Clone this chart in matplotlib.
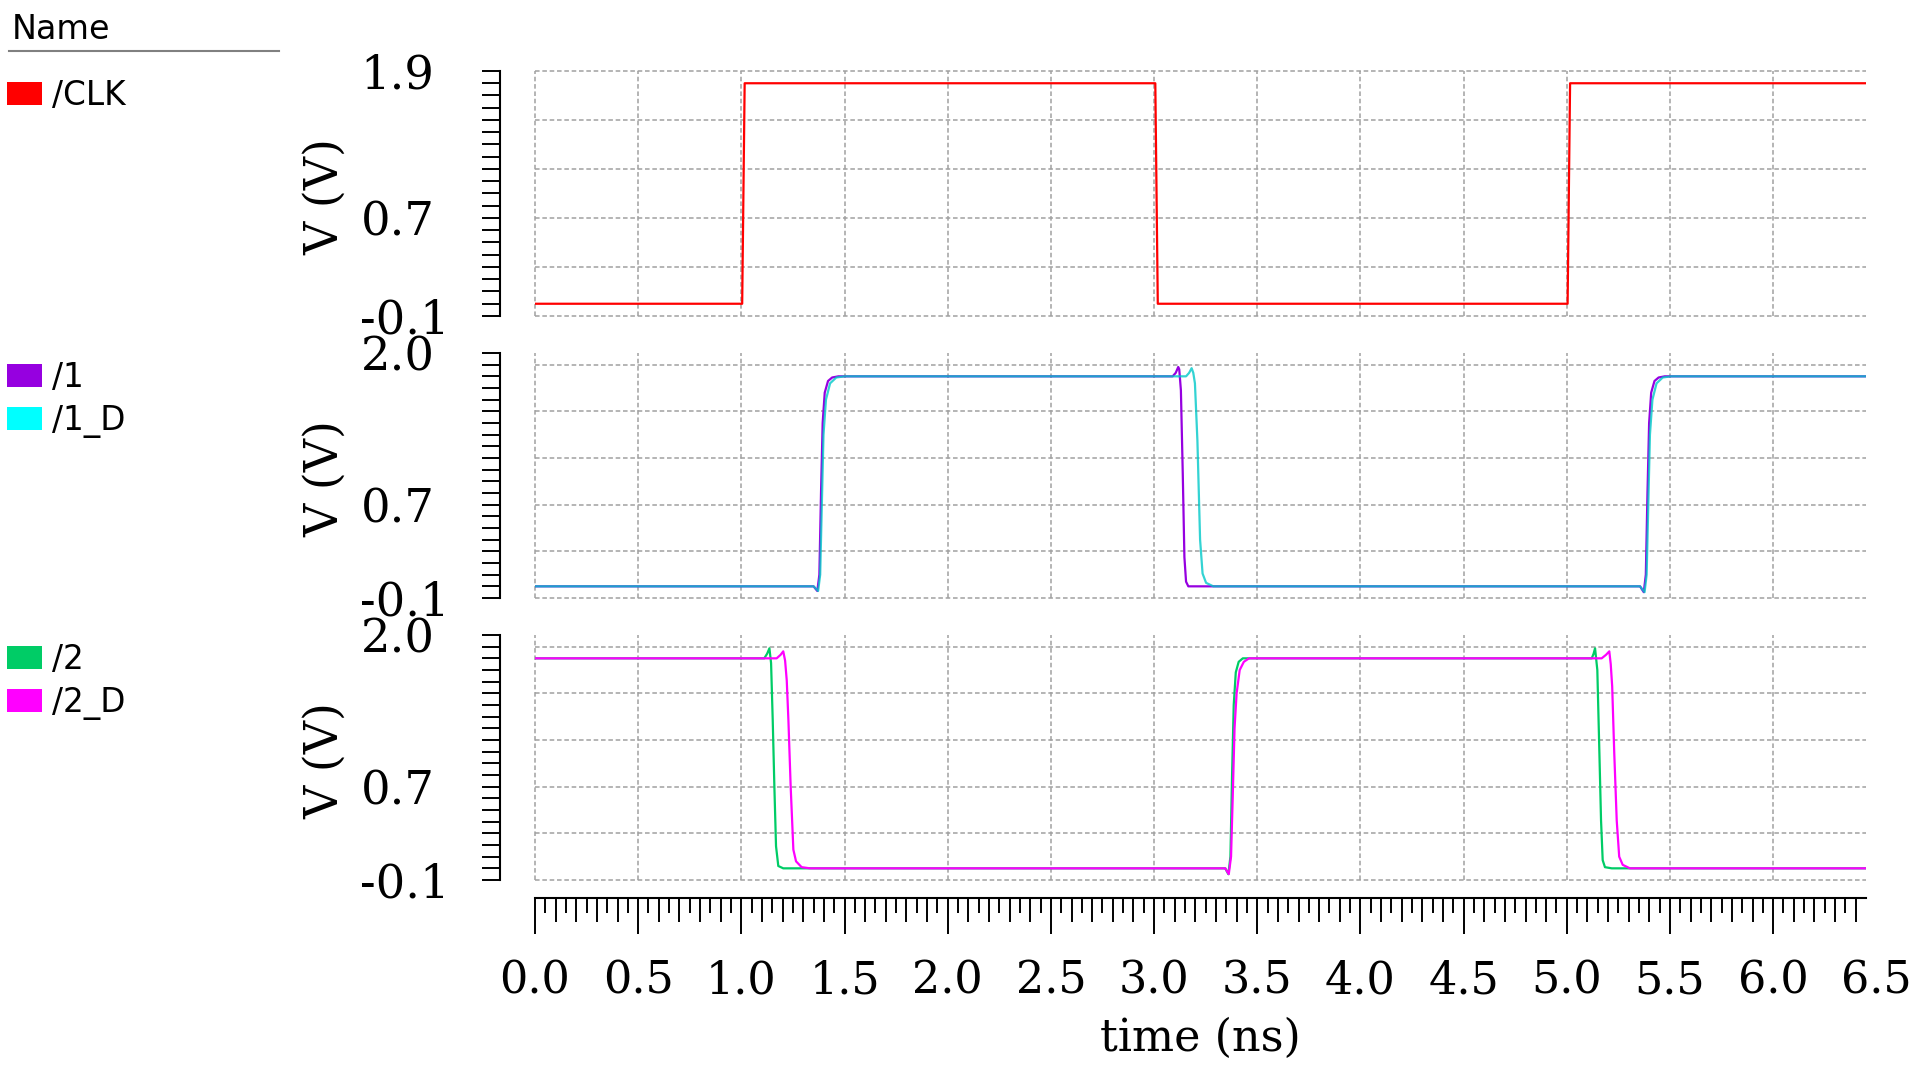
import numpy as np
import matplotlib
matplotlib.use('Agg')
import matplotlib.pyplot as plt
from matplotlib.patches import Rectangle
from matplotlib.lines import Line2D

# ---- waveform data (time in ns, voltage in V) ----
clk_t = [0.0, 1.004, 1.016, 3.006, 3.018, 5.004, 5.016, 6.45]
clk_v = [0.0, 0.0, 1.8, 1.8, 0.0, 0.0, 1.8, 1.8]

n1_t = [0.0, 1.35, 1.368, 1.378, 1.386, 1.394, 1.404, 1.42, 1.44, 1.47,
        3.09, 3.105, 3.117, 3.122, 3.130, 3.139, 3.147, 3.155, 3.166,
        5.355, 5.373, 5.383, 5.391, 5.399, 5.409, 5.425, 5.445, 5.475, 6.45]
n1_v = [0.0, 0.0, -0.04, 0.1, 0.8, 1.4, 1.66, 1.76, 1.79, 1.8,
        1.8, 1.83, 1.88, 1.86, 1.68, 0.97, 0.25, 0.04, 0.0,
        0.0, -0.05, 0.1, 0.8, 1.4, 1.66, 1.76, 1.79, 1.8, 1.8]

n1d_t = [0.0, 1.35, 1.372, 1.382, 1.39, 1.398, 1.41, 1.43, 1.46, 1.5,
         3.155, 3.17, 3.182, 3.19, 3.198, 3.210, 3.223, 3.235, 3.252, 3.287,
         5.355, 5.377, 5.387, 5.395, 5.403, 5.415, 5.435, 5.465, 5.505, 6.45]
n1d_v = [0.0, 0.0, -0.04, 0.1, 0.7, 1.3, 1.6, 1.74, 1.79, 1.8,
         1.8, 1.83, 1.87, 1.83, 1.74, 1.25, 0.40, 0.11, 0.03, 0.0,
         0.0, -0.05, 0.1, 0.7, 1.3, 1.6, 1.74, 1.79, 1.8, 1.8]

n2_t = [0.0, 1.111, 1.125, 1.136, 1.144, 1.152, 1.160, 1.168, 1.179, 1.203,
        3.345, 3.36, 3.37, 3.378, 3.386, 3.396, 3.41, 3.43,
        5.121, 5.13, 5.137, 5.148, 5.158, 5.166, 5.174, 5.185, 5.218, 6.45]
n2_v = [1.8, 1.8, 1.84, 1.886, 1.76, 1.27, 0.70, 0.19, 0.02, 0.0,
        0.0, -0.05, 0.1, 0.8, 1.4, 1.68, 1.77, 1.8,
        1.8, 1.84, 1.886, 1.70, 0.99, 0.41, 0.07, 0.01, 0.0, 0.0]

n2d_t = [0.0, 1.171, 1.19, 1.203, 1.212, 1.220, 1.228, 1.239, 1.252, 1.265, 1.292, 1.333,
         3.345, 3.362, 3.373, 3.381, 3.39, 3.40, 3.415, 3.435, 3.46,
         5.169, 5.19, 5.206, 5.213, 5.220, 5.230, 5.242, 5.254, 5.271, 5.306, 6.45]
n2d_v = [1.8, 1.8, 1.83, 1.86, 1.78, 1.61, 1.27, 0.70, 0.16, 0.06, 0.01, 0.0,
         0.0, -0.05, 0.1, 0.6, 1.2, 1.5, 1.7, 1.77, 1.8,
         1.8, 1.83, 1.86, 1.75, 1.56, 0.99, 0.41, 0.10, 0.03, 0.0, 0.0]

x_labels = ['0.0', '0.5', '1.0', '1.5', '2.0', '2.5', '3.0', '3.5',
            '4.0', '4.5', '5.0', '5.5', '6.0', '6.5']

RED = '#FF0000'
PURPLE = '#9600E0'
CYAN_KEY = '#00FFFF'
CYAN = '#00C8C8'
GREEN = '#00CC66'
MAGENTA = '#FF00FF'
GRID = '#A0A0A0'

plt.rcParams['axes.unicode_minus'] = False
plt.rcParams['font.family'] = ['DejaVu Serif']

W, H = 1920, 1080
XL, XR = 535, 1866
XMAX = 6.45
pxns = (XR - XL) / XMAX


def rect(l, t, r, b):
    return [l / W, 1 - b / H, (r - l) / W, (b - t) / H]


fig = plt.figure(figsize=(19.2, 10.8), dpi=100)
fig.patch.set_facecolor('white')

panels = [
    (71, 316, 1.9, [(clk_t, clk_v, RED, 1.0)]),
    (353, 598, 2.0, [(n1_t, n1_v, PURPLE, 1.0), (n1d_t, n1d_v, CYAN, 0.8)]),
    (635, 880, 2.0, [(n2_t, n2_v, GREEN, 1.0), (n2d_t, n2d_v, MAGENTA, 1.0)]),
]

for top, bot, ytop, traces in panels:
    ax = fig.add_axes(rect(XL, top, XR, bot))
    ax.set_xlim(0, XMAX)
    ax.set_ylim(-0.1, ytop)
    for s in ['top', 'right', 'bottom']:
        ax.spines[s].set_visible(False)
    ax.spines['left'].set_position(('outward', 25.2))
    ax.spines['left'].set_linewidth(1.5)
    ax.set_xticks([])

    # dashed grid
    for gx in np.arange(0, 6.01, 0.5):
        ax.axvline(gx, color=GRID, lw=1.1, ls=(0, (3, 1.8)), clip_on=False, zorder=1)
    for gy in [-0.1, 0.3, 0.7, 1.1, 1.5, 1.9]:
        ax.axhline(gy, color=GRID, lw=1.1, ls=(0, (3, 1.8)), clip_on=False, zorder=1)

    for t, v, c, a in traces:
        ax.plot(t, v, color=c, lw=1.6, alpha=a, zorder=3)

    # y ruler
    ax.set_yticks([-0.1, 0.7, ytop])
    ax.set_yticklabels(['-0.1', '0.7', '%.1f' % ytop])
    ax.set_yticks(np.arange(-0.1, ytop + 0.01, 0.1), minor=True)
    ax.tick_params(axis='y', which='both', direction='out', length=13, width=1.4)
    ax.tick_params(axis='y', which='major', labelsize=33.5, pad=87.5)
    for lab in ax.get_yticklabels():
        lab.set_ha('left')

    fig.text(325 / W, 1 - ((top + bot) / 2 + 3.5) / H, 'V (V)', rotation=90,
             ha='center', va='center', fontsize=33)

# x ruler
axr = fig.add_axes(rect(XL, 897, XL + 6.5 * pxns, 898))
axr.set_xlim(0, 6.5)
axr.patch.set_alpha(0)
for s in ['top', 'right', 'left']:
    axr.spines[s].set_visible(False)
axr.spines['bottom'].set_bounds(0, XMAX)
axr.spines['bottom'].set_linewidth(1.5)
axr.set_yticks([])
axr.set_xticks(np.arange(0, 6.51, 0.5))
axr.set_xticklabels(x_labels)
axr.set_xticks(np.arange(0, 6.42, 0.1), minor=True)
axr.tick_params(axis='x', which='major', direction='out', length=26, width=1.4,
                labelsize=32, pad=18)
axr.tick_params(axis='x', which='minor', direction='out', length=17, width=1.4)
axr.xaxis.get_major_ticks()[-1].tick1line.set_visible(False)

sec = axr.secondary_xaxis('bottom')
sec.set_xticks(np.arange(0.05, 6.42, 0.1))
sec.tick_params(axis='x', direction='out', length=10.5, width=1.4, labelbottom=False)
sec.spines['bottom'].set_visible(False)

fig.text((XL + XR) / 2 / W, 1 - 1038 / H, 'time (ns)', ha='center', va='center', fontsize=32)

# name list on the left
fig.text(12 / W, 1 - 39 / H, 'Name', fontsize=24, family='DejaVu Sans', va='baseline')
fig.add_artist(Line2D([9 / W, 279 / W], [1 - 51 / H, 1 - 51 / H], color='#808080',
                      lw=1.5, transform=fig.transFigure))

keys = [('/CLK', RED, 93.5), ('/1', PURPLE, 375.5), ('/1_D', CYAN_KEY, 418.5),
        ('/2', GREEN, 657.5), ('/2_D', MAGENTA, 700)]
for name, col, cy in keys:
    fig.add_artist(Rectangle((7 / W, 1 - (cy + 11.5) / H), 35 / W, 23 / H,
                             transform=fig.transFigure, facecolor=col, edgecolor='none'))
    fig.text(52 / W, 1 - (cy + 12) / H, name, fontsize=23.5, family='DejaVu Sans',
             va='baseline')

fig.savefig('out.png', dpi=100)
